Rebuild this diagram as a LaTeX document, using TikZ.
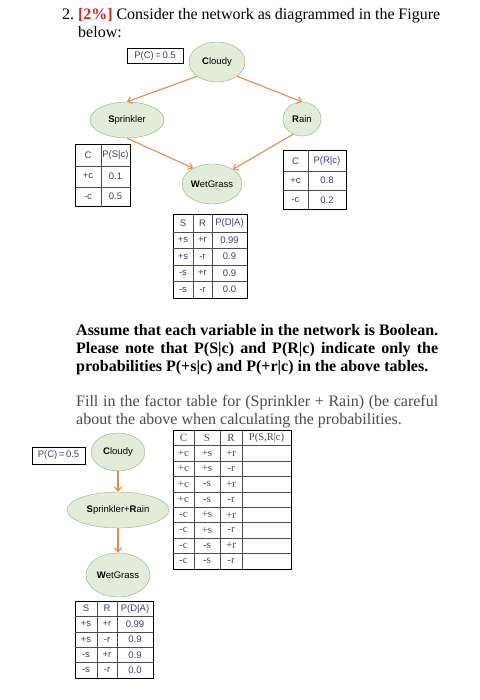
\documentclass[tikz,border=0pt]{standalone}
\usepackage{fontspec}
\setmainfont{Liberation Serif}
\setsansfont{Liberation Sans}
\usepackage{xcolor}
\usetikzlibrary{
  shapes.geometric,
  arrows.meta,
  positioning
}
\definecolor{bnfill}{RGB}{226,236,216}
\definecolor{bnline}{RGB}{150,172,140}
\definecolor{bnarrow}{RGB}{232,138,78}
\definecolor{cptink}{RGB}{62,62,122}
\definecolor{noteink}{RGB}{74,76,72}
\definecolor{markred}{RGB}{200,40,40}
\tikzset{
  arrow/.style    = {-{Straight Barb[length=4pt, width=7pt]}, bnarrow, line width=1.1pt},
  varnode/.style  = {ellipse, draw=bnline, fill=bnfill, inner sep=0pt,
                     font=\fontsize{9.5}{10}\sffamily},
  priorbox/.style = {draw, line width=0.9pt, inner sep=0pt,
                     font=\fontsize{9.5}{10}\sffamily, text=cptink},
  cpttext/.style  = {font=\fontsize{9.5}{10}\sffamily, text=cptink, inner sep=0pt},
  factext/.style  = {font=\fontsize{11}{12}\selectfont, text=noteink, inner sep=0pt},
  tabframe/.style = {draw, line width=1pt},
  tabrule/.style  = {draw=black!70, line width=0.5pt},
  para/.style     = {anchor=north west, inner sep=0pt, align=justify},
}

\begin{document}
\begin{tikzpicture}[x=1pt, y=-1pt]
    \useasboundingbox[fill=white] (0,0) rectangle (479,700);

    % Question text
    \node[para, text width=378pt, font=\fontsize{16}{18}\selectfont] (qhead) at (62,8)
        {2.~{\color{markred}\bfseries[2\%]} Consider the network as diagrammed in the Figure\linebreak
         \hspace*{16pt}below:};

    % Network, upper figure
    \node[priorbox, minimum width=56pt, minimum height=15pt] (pc) at (155,56) {P(C)\,=\,0.5};
    \node[varnode, minimum width=56pt, minimum height=40pt] (cloudy) at (217,62) {\textbf{C}loudy};
    \node[varnode, minimum width=74pt, minimum height=36pt] (sprinkler) at (127,120) {\textbf{S}prinkler};
    \node[varnode, minimum width=38pt, minimum height=34pt] (rain) at (302,119) {\textbf{R}ain};
    \node[varnode, minimum width=60pt, minimum height=40pt] (wetgrass) at (212,184) {\textbf{W}etGrass};

    \draw[arrow] (cloudy.south west) -- (sprinkler.north);
    \draw[arrow] (cloudy.south east) -- (rain.north);
    \draw[arrow] (sprinkler.south) -- (wetgrass.140);
    \draw[arrow] (rain.240) -- (wetgrass.35);

    % CPT P(S|c)
    \draw[tabframe] (75,145) rectangle (130,207);
    \draw[tabrule] (101,145) -- (101,207);
    \foreach \y in {166,187} \draw[tabrule] (75,\y) -- (130,\y);
    \foreach \c/\p [count=\i] in {C/P(S|c), +c/0.1, -c/0.5} {
        \node[cpttext] (ps\i-c) at (88,{145+(\i-0.5)*20.67}) {\c};
        \node[cpttext] (ps\i-p) at (115.5,{145+(\i-0.5)*20.67}) {\p};
    }

    % CPT P(R|c)
    \draw[tabframe] (283,151) rectangle (346,210);
    \draw[tabrule] (308,151) -- (308,210);
    \foreach \y in {171,190} \draw[tabrule] (283,\y) -- (346,\y);
    \foreach \c/\p [count=\i] in {C/P(R|c), +c/0.8, -c/0.2} {
        \node[cpttext] (pr\i-c) at (295.5,{151+(\i-0.5)*19.67}) {\c};
        \node[cpttext] (pr\i-p) at (327,{151+(\i-0.5)*19.67}) {\p};
    }

    % CPT P(D|A), upper
    \draw[tabframe] (173,215) rectangle (247,298);
    \foreach \x in {193,212} \draw[tabrule] (\x,215) -- (\x,298);
    \foreach \y in {232,248,265,281} \draw[tabrule] (173,\y) -- (247,\y);
    \foreach \s/\r/\p [count=\i] in {S/R/P(D|A), +s/+r/0.99, +s/-r/0.9, -s/+r/0.9, -s/-r/0.0} {
        \node[cpttext] (pd\i-s) at (183,{215+(\i-0.5)*16.6}) {\s};
        \node[cpttext] (pd\i-r) at (202.5,{215+(\i-0.5)*16.6}) {\r};
        \node[cpttext] (pd\i-p) at (229.5,{215+(\i-0.5)*16.6}) {\p};
    }

    % Notes
    \node[para, text width=362pt, font=\fontsize{16}{18}\bfseries] (note) at (76,324)
        {Assume that each variable in the network is Boolean.\linebreak
         Please note that P(S|c) and P(R|c) indicate only the\linebreak
         probabilities P(+s|c) and P(+r|c) in the above tables.};
    \node[para, text width=362pt, font=\fontsize{16}{18}\selectfont, text=noteink] (task) at (76,395)
        {Fill in the factor table for (Sprinkler + Rain) (be careful\linebreak
         about the above when calculating the probabilities.};

    % Network, lower figure
    \node[priorbox, minimum width=53pt, minimum height=17pt] (pc2) at (58.5,455.5) {P(C)\,=\,0.5};
    \node[varnode, minimum width=54pt, minimum height=38pt] (cloudy2) at (118,452) {\textbf{C}loudy};
    \node[varnode, minimum width=102pt, minimum height=36pt] (sprain) at (118,510) {\textbf{S}prinkler+\textbf{R}ain};
    \node[varnode, minimum width=64pt, minimum height=44pt] (wetgrass2) at (118,575) {\textbf{W}etGrass};

    \draw[arrow] (cloudy2) -- (sprain);
    \draw[arrow] (sprain) -- (wetgrass2);

    % Factor table P(S,R|c)
    \draw[tabframe] (173,430) rectangle (291,569);
    \foreach \x in {194,220,242} \draw[tabrule] (\x,430) -- (\x,569);
    \foreach \k in {1,...,8} \draw[tabrule] (173,{430+\k*15.44}) -- (291,{430+\k*15.44});
    \foreach \c/\s/\r [count=\i] in {C/S/R, +c/+s/+r, +c/+s/-r, +c/-s/+r, +c/-s/-r,
                                     -c/+s/+r, -c/+s/-r, -c/-s/+r, -c/-s/-r} {
        \node[factext] (ft\i-c) at (183.5,{430+(\i-0.5)*15.44}) {\c};
        \node[factext] (ft\i-s) at (207,{430+(\i-0.5)*15.44}) {\s};
        \node[factext] (ft\i-r) at (231,{430+(\i-0.5)*15.44}) {\r};
    }
    \node[factext, font=\fontsize{10.5}{11}\selectfont] (ft-head) at (266.5,{430+0.5*15.44}) {P(S,R|c)};

    % CPT P(D|A), lower
    \draw[tabframe] (75,601) rectangle (153,678);
    \foreach \x in {97,117} \draw[tabrule] (\x,601) -- (\x,678);
    \foreach \k in {1,...,4} \draw[tabrule] (75,{601+\k*15.4}) -- (153,{601+\k*15.4});
    \foreach \s/\r/\p [count=\i] in {S/R/P(D|A), +s/+r/0.99, +s/-r/0.9, -s/+r/0.9, -s/-r/0.0} {
        \node[cpttext] (pe\i-s) at (86,{601+(\i-0.5)*15.4}) {\s};
        \node[cpttext] (pe\i-r) at (107,{601+(\i-0.5)*15.4}) {\r};
        \node[cpttext] (pe\i-p) at (135,{601+(\i-0.5)*15.4}) {\p};
    }

\end{tikzpicture}
\end{document}
